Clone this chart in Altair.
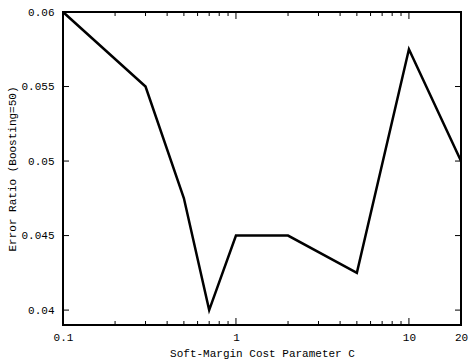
import altair as alt
import pandas as pd

C_vals = [0.1, 0.3, 0.5, 0.7, 1, 2, 5, 10, 20]
err_vals = [0.06, 0.055, 0.0475, 0.04, 0.045, 0.045, 0.0425, 0.0575, 0.05]

x_major = [0.1, 1, 10, 20]
x_minor = [0.2, 0.3, 0.4, 0.5, 0.6, 0.7, 0.8, 0.9, 2, 3, 4, 5, 6, 7, 8, 9]
y_major = [0.04, 0.045, 0.05, 0.055, 0.06]

W, H = 398, 313
FONT = "Liberation Mono"

xs = alt.Scale(type="log", domain=[0.1, 20], nice=False)
ys = alt.Scale(domain=[0.039, 0.06], nice=False, zero=False)

df = pd.DataFrame({"C": C_vals, "err": err_vals})
dxM = pd.DataFrame({"t": x_major})
dxm = pd.DataFrame({"t": x_minor})
dyM = pd.DataFrame({"t": y_major})

line = alt.Chart(df).mark_line(color="black", strokeWidth=2.5).encode(
    x=alt.X("C:Q", scale=xs, title="Soft-Margin Cost Parameter C",
            axis=alt.Axis(values=x_major, format="~g", ticks=False, domain=False,
                          grid=False, labelPadding=6, titlePadding=5,
                          labelFlush=False, labelOverlap=False,
                          labelFont=FONT, titleFont=FONT, labelFontSize=11,
                          titleFontSize=11, titleFontWeight="normal",
                          labelColor="black", titleColor="black")),
    y=alt.Y("err:Q", scale=ys, title="Error Ratio (Boosting=50)",
            axis=alt.Axis(values=y_major, format="~g", ticks=False, domain=False,
                          grid=False, labelPadding=9, titlePadding=3,
                          labelFlush=False, labelOverlap=False,
                          labelFont=FONT, titleFont=FONT, labelFontSize=11,
                          titleFontSize=11, titleFontWeight="normal",
                          labelColor="black", titleColor="black")),
)

def xticks(d, length):
    b = alt.Chart(d).mark_rule(color="black", strokeWidth=1).encode(
        x=alt.X("t:Q", scale=xs), y=alt.value(H), y2=alt.value(H - length))
    t = alt.Chart(d).mark_rule(color="black", strokeWidth=1).encode(
        x=alt.X("t:Q", scale=xs), y=alt.value(0), y2=alt.value(length))
    return [b, t]

def yticks(d, length):
    l = alt.Chart(d).mark_rule(color="black", strokeWidth=1).encode(
        y=alt.Y("t:Q", scale=ys), x=alt.value(0), x2=alt.value(length))
    r = alt.Chart(d).mark_rule(color="black", strokeWidth=1).encode(
        y=alt.Y("t:Q", scale=ys), x=alt.value(W), x2=alt.value(W - length))
    return [l, r]

chart = alt.layer(
    line, *xticks(dxm, 4), *xticks(dxM, 7), *yticks(dyM, 6)
).properties(
    width=W, height=H,
    background="white",
    autosize=alt.AutoSizeParams(type="none"),
    padding={"left": 63, "top": 12, "right": 13, "bottom": 36},
).configure_view(stroke="black", strokeWidth=2, strokeOpacity=1)

chart.save("out.html", embed_options={"renderer": "svg", "actions": False})
